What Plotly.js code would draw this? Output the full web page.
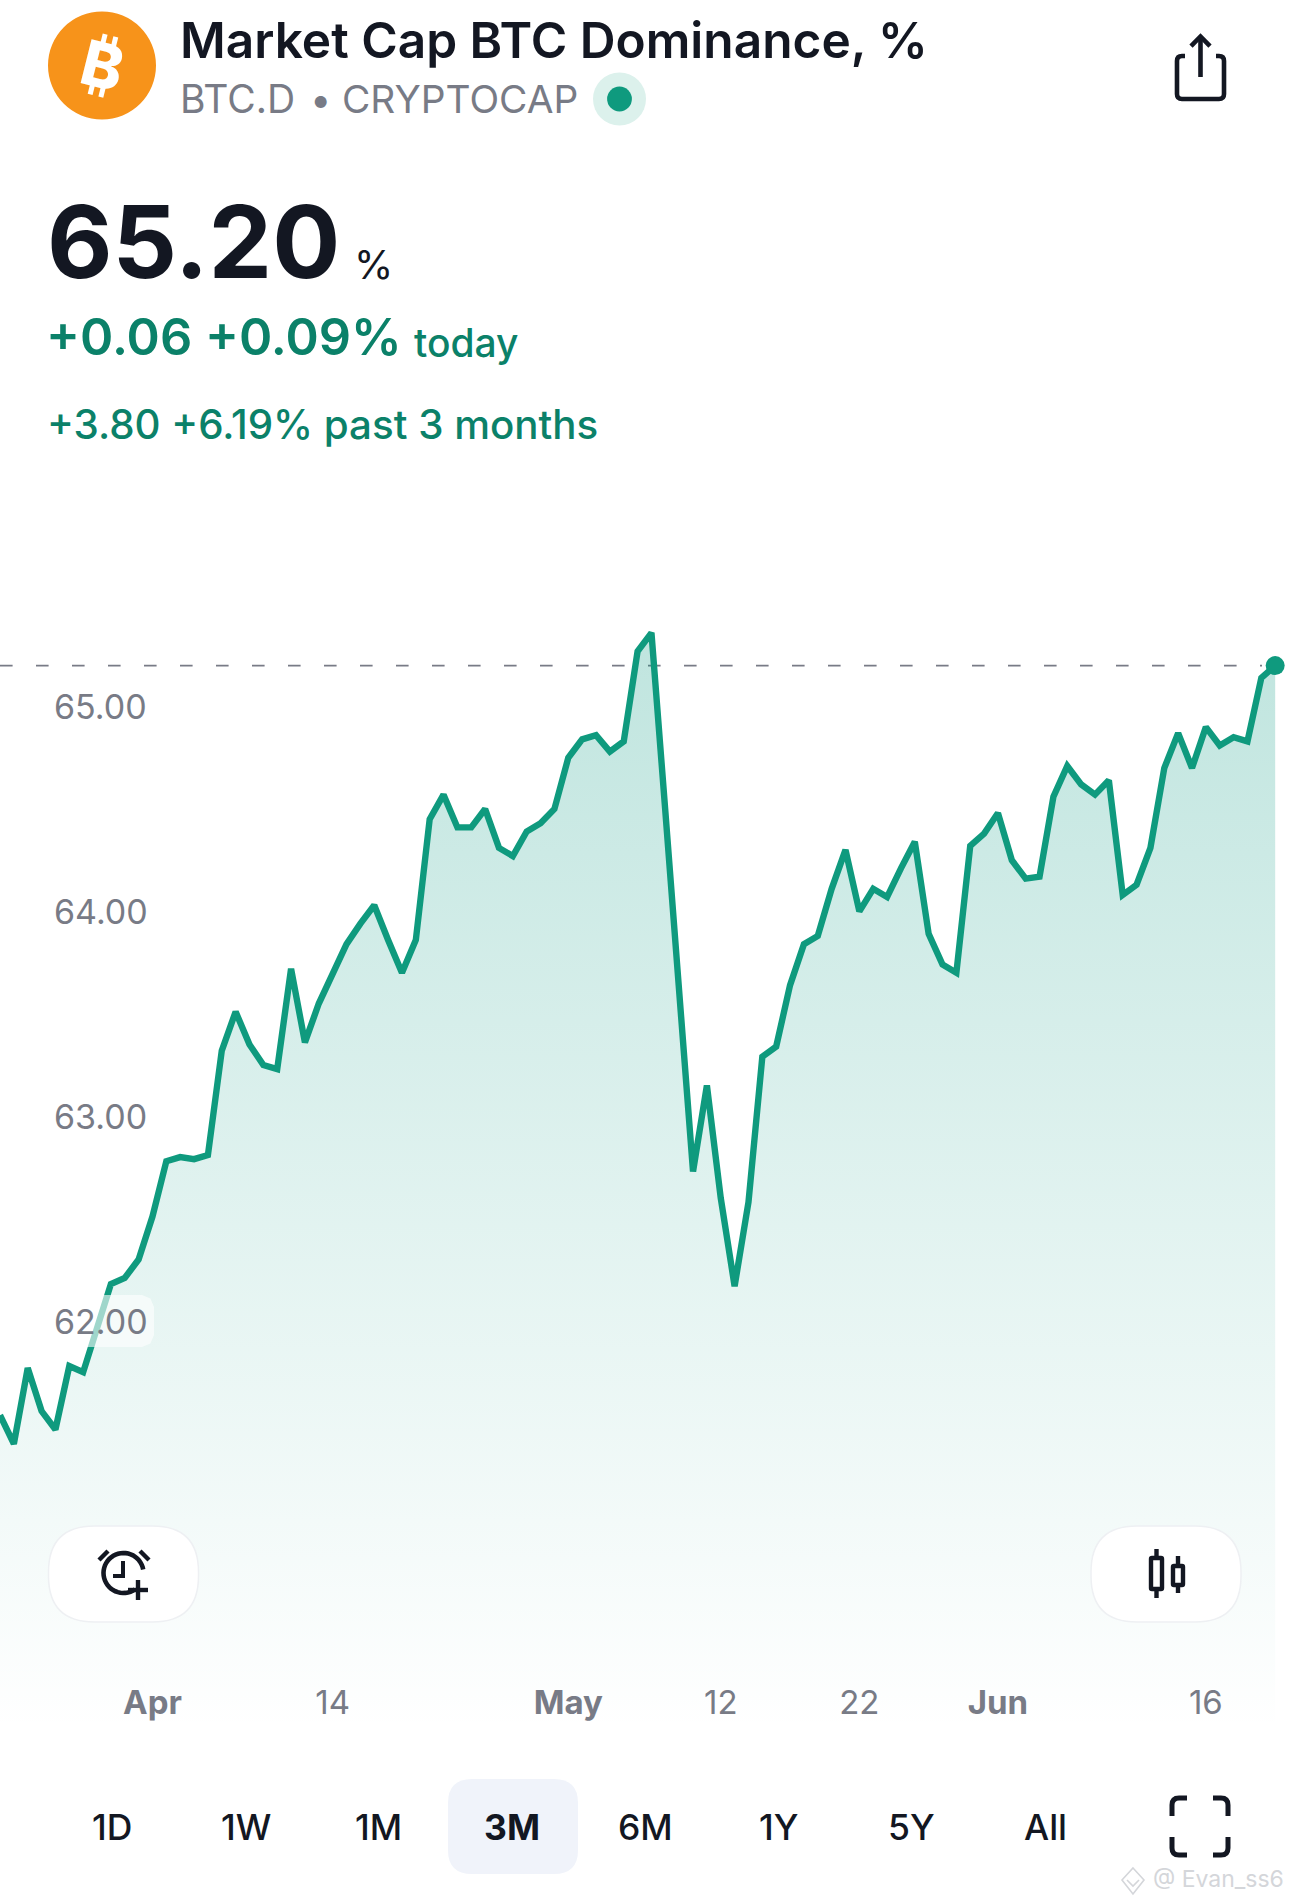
<!DOCTYPE html>
<html>
<head>
<meta charset="utf-8">
<script src="https://cdn.plot.ly/plotly-3.0.1.min.js"></script>
<style>html,body{margin:0;padding:0;background:#fff;overflow:hidden}#chart{width:1290px;height:1902px}</style>
</head>
<body>
<div id="chart"></div>
<script>
// ---- data ----
const dates = [
"2025-03-21","2025-03-22","2025-03-23","2025-03-24","2025-03-25","2025-03-26","2025-03-27","2025-03-28","2025-03-29","2025-03-30","2025-03-31",
"2025-04-01","2025-04-02","2025-04-03","2025-04-04","2025-04-05","2025-04-06","2025-04-07","2025-04-08","2025-04-09","2025-04-10",
"2025-04-11","2025-04-12","2025-04-13","2025-04-14","2025-04-15","2025-04-16","2025-04-17","2025-04-18","2025-04-19","2025-04-20",
"2025-04-21","2025-04-22","2025-04-23","2025-04-24","2025-04-25","2025-04-26","2025-04-27","2025-04-28","2025-04-29","2025-04-30",
"2025-05-01","2025-05-02","2025-05-03","2025-05-04","2025-05-05","2025-05-06","2025-05-07","2025-05-08","2025-05-09","2025-05-10",
"2025-05-11","2025-05-12","2025-05-13","2025-05-14","2025-05-15","2025-05-16","2025-05-17","2025-05-18","2025-05-19","2025-05-20",
"2025-05-21","2025-05-22","2025-05-23","2025-05-24","2025-05-25","2025-05-26","2025-05-27","2025-05-28","2025-05-29","2025-05-30","2025-05-31",
"2025-06-01","2025-06-02","2025-06-03","2025-06-04","2025-06-05","2025-06-06","2025-06-07","2025-06-08","2025-06-09","2025-06-10",
"2025-06-11","2025-06-12","2025-06-13","2025-06-14","2025-06-15","2025-06-16","2025-06-17","2025-06-18","2025-06-19","2025-06-20","2025-06-21"];
const dominance = [
61.54,61.40,61.77,61.56,61.47,61.78,61.75,61.96,62.18,62.21,62.30,
62.51,62.78,62.80,62.79,62.81,63.32,63.51,63.35,63.25,63.23,
63.72,63.36,63.55,63.69,63.84,63.94,64.03,63.86,63.70,63.86,
64.45,64.57,64.41,64.41,64.50,64.31,64.27,64.39,64.43,64.50,
64.75,64.84,64.86,64.78,64.83,65.27,65.36,64.49,63.63,62.73,
63.15,62.60,62.17,62.58,63.29,63.34,63.64,63.84,63.88,64.11,
64.30,64.00,64.11,64.07,64.21,64.34,63.89,63.74,63.70,64.32,64.38,
64.48,64.25,64.16,64.17,64.56,64.71,64.62,64.57,64.64,64.08,
64.13,64.31,64.70,64.87,64.70,64.90,64.81,64.85,64.83,65.14,65.20];
const lastPrice = 65.20;
const yTicks = [62,63,64,65];
const yTickLabels = ["62.00","63.00","64.00","65.00"];
const xTicks = ["2025-04-01","2025-04-14","2025-05-01","2025-05-12","2025-05-22","2025-06-01","2025-06-16"];
const xTickLabels = ["<b>Apr</b>","14","<b>May</b>","12","22","<b>Jun</b>","16"];
const ranges = ["1D","1W","1M","3M","6M","1Y","5Y","All"];

// ---- page geometry ----
const W = 1290, H = 1902;
const FONT = "Inter, 'Noto Sans', sans-serif";
const INK = "#131722", GREY = "#787b86", GREEN_TXT = "#0b8169", GREEN = "#0f9a7e";
const xRange = ["2025-03-21 00:00", "2025-06-22 01:40"];
const yRange = [59.163, 68.45];
const t0 = Date.parse("2025-03-21T00:00:00Z"), t1 = Date.parse("2025-06-22T01:40:00Z");
const pxX = px => t0 + (t1 - t0) * px / W;
const pxY = py => yRange[1] - (yRange[1] - yRange[0]) * py / H;
const fx = x => (x / W).toFixed(5), fy = y => (1 - y / H).toFixed(5);
const P = (x, y) => fx(x) + "," + fy(y);

function polyPath(pts, close) {
  return "M" + pts.map(p => P(p[0], p[1])).join("L") + (close ? "Z" : "");
}
function rr(x0, y0, x1, y1, r) {
  return "M" + P(x0 + r, y0) + "L" + P(x1 - r, y0) + "Q" + P(x1, y0) + " " + P(x1, y0 + r) +
    "L" + P(x1, y1 - r) + "Q" + P(x1, y1) + " " + P(x1 - r, y1) + "L" + P(x0 + r, y1) +
    "Q" + P(x0, y1) + " " + P(x0, y1 - r) + "L" + P(x0, y0 + r) + "Q" + P(x0, y0) + " " + P(x0 + r, y0) + "Z";
}
function arc(cx, cy, r, a0, a1) {
  const pts = [];
  for (let i = 0; i <= 40; i++) {
    const a = (a0 + (a1 - a0) * i / 40) * Math.PI / 180;
    pts.push([cx + r * Math.cos(a), cy + r * Math.sin(a)]);
  }
  return polyPath(pts, false);
}
function circle(cx, cy, r, fill) {
  return {type: "circle", xref: "paper", yref: "paper", x0: fx(cx - r), x1: fx(cx + r), y0: fy(cy + r), y1: fy(cy - r),
    fillcolor: fill, line: {width: 0}, layer: "above"};
}
const stroke = (path, w, color) => ({type: "path", xref: "paper", yref: "paper", path, line: {width: w, color: color || INK}, layer: "above"});
const fillShape = (path, fill, lineCol) => ({type: "path", xref: "paper", yref: "paper", path, fillcolor: fill,
  line: lineCol ? {width: 1.5, color: lineCol} : {width: 0}, layer: "above"});
function txt(text, x, base, size, color, weight, anchor) {
  return {text, xref: "paper", yref: "paper", x: x / W, y: 1 - (base + size * 0.242 + 1) / H, xanchor: anchor || "left", yanchor: "bottom",
    showarrow: false, borderpad: 0, borderwidth: 0, font: {family: FONT, size, color, weight: weight || 400}};
}
const rot = (cx, cy, a, x, y) => {
  const r = a * Math.PI / 180;
  return [cx + x * Math.cos(r) - y * Math.sin(r), cy + x * Math.sin(r) + y * Math.cos(r)];
};

// ---- icons and controls ----
const sx = -8; // share icon offset
const shapes = [
  {type: "line", xref: "paper", yref: "y", x0: 0, x1: 1262 / W, y0: lastPrice, y1: lastPrice,
   line: {color: GREY, width: 1.6, dash: "12.6px,23.4px"}, layer: "below"},
  circle(102, 65.5, 54, "#f7931a"),
  circle(619.5, 99, 26.5, "#dcf1ec"),
  circle(619.5, 99, 12.4, GREEN),
  // share icon
  stroke("M" + P(1193 + sx, 56) + "L" + P(1190 + sx, 56) + "Q" + P(1185 + sx, 56) + " " + P(1185 + sx, 61) + "L" + P(1185 + sx, 94) +
    "Q" + P(1185 + sx, 99) + " " + P(1190 + sx, 99) + "L" + P(1227 + sx, 99) + "Q" + P(1232 + sx, 99) + " " + P(1232 + sx, 94) + "L" + P(1232 + sx, 61) +
    "Q" + P(1232 + sx, 56) + " " + P(1227 + sx, 56) + "L" + P(1224 + sx, 56), 4.6),
  stroke(polyPath([[1208.5 + sx, 37], [1208.5 + sx, 77]]), 4.6),
  stroke(polyPath([[1199 + sx, 46], [1208.5 + sx, 36.5], [1218 + sx, 46]]), 4.6),
  // buttons
  fillShape(rr(48.5, 1526, 198.5, 1622, 46), "#ffffff", "#eef0f3"),
  fillShape(rr(1091, 1526, 1241, 1622, 46), "#ffffff", "#eef0f3"),
  fillShape(rr(448, 1779, 578, 1874, 24), "#f0f3fa"),
  // alarm icon
  stroke(arc(123.5, 1573, 20, 55, 350), 4.6),
  stroke(polyPath([[123, 1561], [123, 1576], [113, 1576]]), 4),
  stroke(polyPath([[99, 1560], [108, 1551]]), 4.4),
  stroke(polyPath([[140, 1551], [149, 1560]]), 4.4),
  stroke(polyPath([[138, 1580], [138, 1600]]), 4.4),
  stroke(polyPath([[128, 1590], [148, 1590]]), 4.4),
  // candle icon
  stroke(rr(1151, 1558, 1162, 1589, 1), 4.4),
  stroke(polyPath([[1156.5, 1549], [1156.5, 1558]]), 4.4),
  stroke(polyPath([[1156.5, 1589], [1156.5, 1598]]), 4.4),
  stroke(rr(1173, 1566, 1183, 1585, 1), 4.4),
  stroke(polyPath([[1178, 1556], [1178, 1566]]), 4.4),
  stroke(polyPath([[1178, 1585], [1178, 1593]]), 4.4),
  // fullscreen icon
  stroke("M" + P(1172, 1816) + "L" + P(1172, 1805) + "Q" + P(1172, 1798) + " " + P(1179, 1798) + "L" + P(1187, 1798), 5),
  stroke("M" + P(1213, 1798) + "L" + P(1221, 1798) + "Q" + P(1228, 1798) + " " + P(1228, 1805) + "L" + P(1228, 1816), 5),
  stroke("M" + P(1172, 1837) + "L" + P(1172, 1848) + "Q" + P(1172, 1855) + " " + P(1179, 1855) + "L" + P(1187, 1855), 5),
  stroke("M" + P(1213, 1855) + "L" + P(1221, 1855) + "Q" + P(1228, 1855) + " " + P(1228, 1848) + "L" + P(1228, 1837), 5),
  // watermark diamond
  stroke(polyPath([[1133, 1868], [1144, 1880], [1133, 1894], [1122, 1880]], true), 1.6, "#d4d6da"),
  stroke(polyPath([[1127, 1880], [1133, 1886], [1139, 1880]]), 1.6, "#d4d6da")
];
// bitcoin glyph strokes
[[-5, -31, -5, -20], [6, -31, 6, -20], [-5, 20, -5, 31], [6, 20, 6, 31]].forEach(t => {
  shapes.push(stroke(polyPath([rot(102.5, 65.5, 14, t[0], t[1]), rot(102.5, 65.5, 14, t[2], t[3])]), 5, "#ffffff"));
});

function dotText(s, x, base, size) { return txt(s, x, base, size, GREY, 400, "center"); }
const annotations = [
  txt("Market Cap BTC Dominance, %", 180, 57, 49.6, INK, 600),
  txt("BTC.D", 180, 112, 39, GREY, 400),
  dotText("•", 320, 112, 38),
  txt("CRYPTOCAP", 342, 112, 38.8, GREY, 400),
  txt("65.20", 47, 277, 101, INK, 700),
  txt("%", 354, 278, 40, INK, 400),
  txt("+0.06 +0.09%", 46, 354, 50.5, GREEN_TXT, 600),
  txt("today", 414, 356, 39, GREEN_TXT, 500),
  txt("+3.80 +6.19% past 3 months", 47, 438, 40.3, GREEN_TXT, 500),
  {text: "B", xref: "paper", yref: "paper", x: 102.5 / W, y: 1 - 65.5 / H, xanchor: "center", yanchor: "middle", showarrow: false,
   textangle: 14, font: {family: FONT, size: 62, color: "#ffffff", weight: 800}},
  txt("@ Evan_ss6", 1153, 1886, 23, "#d4d6da", 400)
];
const rangeCenters = [112, 245.5, 378, 512, 645, 778, 911, 1045];
ranges.forEach((r, i) => {
  annotations.push(txt(r, rangeCenters[i], 1839, 35.5, INK, r === "3M" ? 700 : 500, "center"));
});

// translucent backing of the 62.00 axis label (sits over the line, under the label)
const bx0 = 44, bx1 = 154, by0 = 1295, by1 = 1347, br = 12;
const boxPx = [[bx0 + br, by0], [bx1 - br, by0], [bx1 - br * .3, by0 + br * .3], [bx1, by0 + br], [bx1, by1 - br], [bx1 - br * .3, by1 - br * .3],
  [bx1 - br, by1], [bx0 + br, by1], [bx0 + br * .3, by1 - br * .3], [bx0, by1 - br], [bx0, by0 + br], [bx0 + br * .3, by0 + br * .3], [bx0 + br, by0]];

const traces = [
  {x: dates, y: dominance, type: "scatter", mode: "lines", hoverinfo: "skip",
   line: {color: GREEN, width: 6.4, shape: "linear"},
   fill: "tozeroy",
   fillgradient: {type: "vertical", start: 60.0, stop: 65.4,
     colorscale: [[0, "rgba(8,153,129,0)"], [0.35, "rgba(8,153,129,0.09)"], [1, "rgba(8,153,129,0.26)"]]}},
  {x: boxPx.map(p => pxX(p[0])), y: boxPx.map(p => pxY(p[1])), type: "scatter", mode: "lines", fill: "toself", hoverinfo: "skip",
   fillcolor: "rgba(255,255,255,0.6)", line: {width: 0}},
  {x: [dates[dates.length - 1]], y: [dominance[dominance.length - 1]], type: "scatter", mode: "markers", hoverinfo: "skip",
   marker: {color: GREEN, size: 19, line: {width: 0}}, cliponaxis: false}
];

const layout = {
  width: W, height: H, margin: {l: 0, r: 0, t: 0, b: 0, pad: 0},
  paper_bgcolor: "#ffffff", plot_bgcolor: "rgba(0,0,0,0)", showlegend: false,
  font: {family: FONT},
  xaxis: {type: "date", range: xRange, showgrid: false, zeroline: false, showline: false, ticks: "",
    tickmode: "array", tickvals: xTicks, ticktext: xTickLabels, anchor: "free", position: (H - 1680) / H,
    tickfont: {family: FONT, size: 33, color: GREY}, ticklen: 0, automargin: false, fixedrange: true},
  yaxis: {range: yRange, showgrid: false, zeroline: false, showline: false, ticks: "",
    tickmode: "array", tickvals: yTicks, ticktext: yTickLabels, ticklabelposition: "inside", ticklabelstandoff: 51, ticklabelshift: 1,
    tickfont: {family: FONT, size: 34, color: GREY}, automargin: false, fixedrange: true},
  shapes, annotations
};
Plotly.newPlot("chart", traces, layout, {displayModeBar: false, staticPlot: true, responsive: false});
</script>
</body>
</html>
